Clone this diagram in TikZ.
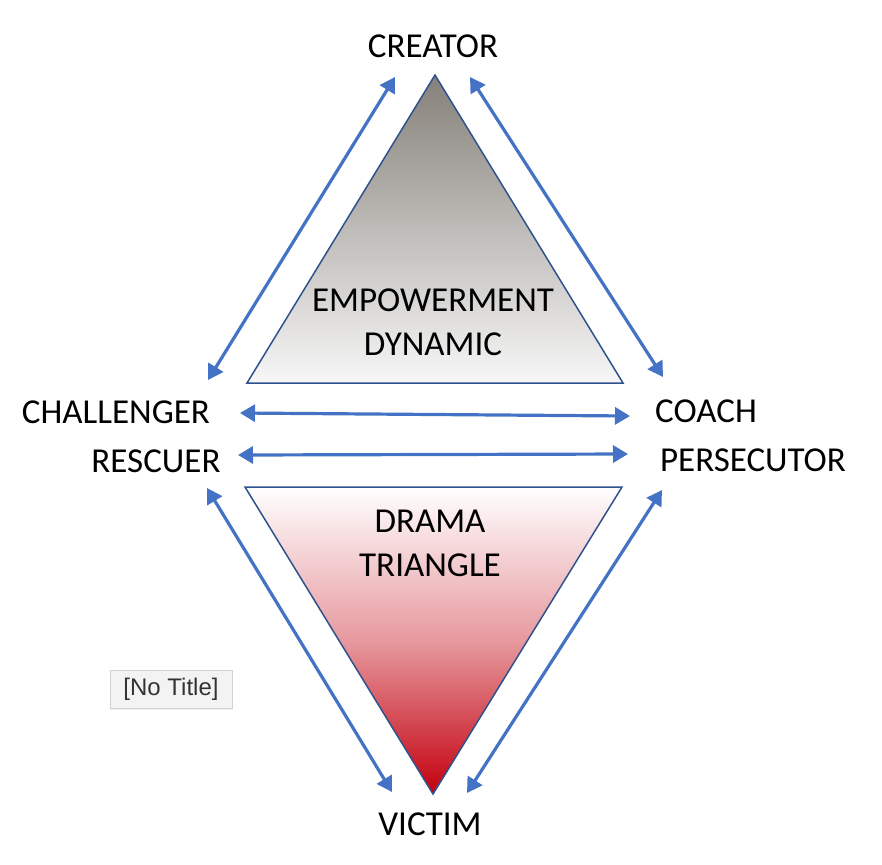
\documentclass[tikz,border=0pt]{standalone}
\usepackage{fontspec}
\setmainfont{Carlito}
\newfontfamily\uifont{Liberation Sans}
\usepackage{tikz}
\usetikzlibrary{arrows.meta,shadows}
\definecolor{bluex}{HTML}{4472C4}
\definecolor{edgex}{HTML}{2F528F}
\definecolor{grayx}{HTML}{858079}
\definecolor{palex}{HTML}{F7F7F7}
\definecolor{redx}{HTML}{C3000E}
\definecolor{tagbg}{HTML}{F3F3F3}
\definecolor{tagln}{HTML}{D2D2D2}
\definecolor{tagtx}{HTML}{333333}
\tikzset{
  ar/.style={<->,>={Triangle[length=7.5pt,width=8.5pt]},line width=1.6pt,bluex},
  lbl/.style={inner sep=0pt,align=center,font=\fontsize{17.5}{22}\selectfont},
  tri/.style={draw=edgex,line width=0.75pt,line join=miter},
  tag/.style={draw=tagln,fill=tagbg,line width=0.5pt,minimum width=61pt,minimum height=19pt,
    inner sep=0pt,text=tagtx,font=\uifont\fontsize{12}{14}\selectfont,
    drop shadow={opacity=0.12,shadow xshift=0pt,shadow yshift=-1pt}}
}
\begin{document}
\begin{tikzpicture}[x=0.5pt,y=-0.5pt]
\useasboundingbox (0,0) rectangle (882,864);
\coordinate (up) at (435,75);
\coordinate (upl) at (247,383);
\coordinate (upr) at (623,383);
\coordinate (dnl) at (245,487);
\coordinate (dnr) at (622,487);
\coordinate (dn) at (433,794);
\draw[tri,top color=grayx,bottom color=palex] (up)--(upr)--(upl)--cycle;
\draw[tri,top color=white,bottom color=redx,middle color=redx!40] (dnl)--(dnr)--(dn)--cycle;
\node[lbl] (emp) at (433,322) {EMPOWERMENT\\DYNAMIC};
\node[lbl] (drama) at (430,543) {DRAMA\\TRIANGLE};
\node[lbl] (creator) at (433,46) {CREATOR};
\node[lbl] (challenger) at (116,412) {CHALLENGER};
\node[lbl] (rescuer) at (156,461) {RESCUER};
\node[lbl] (coach) at (706,411) {COACH};
\node[lbl] (persecutor) at (753,460) {PERSECUTOR};
\node[lbl] (victim) at (430,824) {VICTIM};
\node[tag] (notitle) at (171,689) {[No Title]};
\coordinate (lu1) at (208,380);
\coordinate (lu2) at (395,77);
\coordinate (ru1) at (470,77);
\coordinate (ru2) at (663,377);
\coordinate (h1a) at (240,413);
\coordinate (h1b) at (630,416);
\coordinate (h2a) at (238,455);
\coordinate (h2b) at (628,454);
\coordinate (ld1) at (207,488);
\coordinate (ld2) at (392,792);
\coordinate (rd1) at (662,490);
\coordinate (rd2) at (467,793);
\draw[ar] (lu1)--(lu2);
\draw[ar] (ru1)--(ru2);
\draw[ar] (h1a)--(h1b);
\draw[ar] (h2a)--(h2b);
\draw[ar] (ld1)--(ld2);
\draw[ar] (rd1)--(rd2);
\end{tikzpicture}
\end{document}
